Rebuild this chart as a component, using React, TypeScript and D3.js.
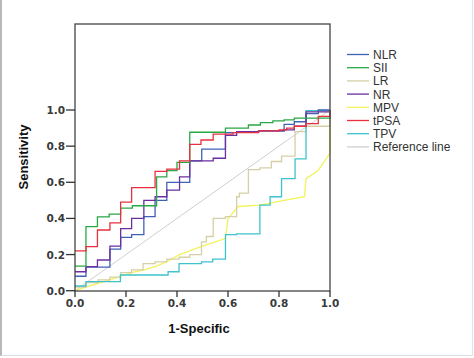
import React from "react";
import * as d3 from "d3";

const TICKS = [0, 0.2, 0.4, 0.6, 0.8, 1.0];

// ROC points: [1 - specificity, sensitivity]
const NLR: [number, number][] = [
  [0, 0.08], [0.043, 0.13], [0.137, 0.23], [0.179, 0.295], [0.222, 0.31], [0.27, 0.41],
  [0.314, 0.5], [0.36, 0.6], [0.45, 0.718], [0.497, 0.784], [0.59, 0.875], [0.634, 0.88],
  [0.72, 0.885], [0.82, 0.92], [0.86, 0.935], [0.906, 0.98], [0.954, 1.0], [1.0, 1.0],
];
const SII: [number, number][] = [
  [0, 0.136], [0.043, 0.355], [0.088, 0.409], [0.134, 0.424], [0.179, 0.457], [0.225, 0.47],
  [0.32, 0.63], [0.36, 0.665], [0.4, 0.71], [0.45, 0.877], [0.59, 0.9], [0.68, 0.917],
  [0.727, 0.93], [0.776, 0.94], [0.82, 0.945], [0.86, 0.955], [1.0, 1.0],
];
const LR: [number, number][] = [
  [0, 0.02], [0.043, 0.045], [0.09, 0.06], [0.137, 0.075], [0.179, 0.1], [0.222, 0.115],
  [0.267, 0.15], [0.314, 0.16], [0.36, 0.175], [0.408, 0.185], [0.45, 0.2], [0.496, 0.27],
  [0.515, 0.3], [0.542, 0.4], [0.59, 0.41], [0.634, 0.52], [0.645, 0.54], [0.68, 0.67],
  [0.725, 0.68], [0.77, 0.715], [0.81, 0.745], [0.863, 0.88], [0.906, 0.91], [1.0, 1.0],
];
const NR: [number, number][] = [
  [0, 0.105], [0.043, 0.133], [0.088, 0.17], [0.137, 0.247], [0.179, 0.343], [0.222, 0.4],
  [0.27, 0.5], [0.314, 0.52], [0.36, 0.557], [0.41, 0.63], [0.45, 0.718], [0.542, 0.733],
  [0.59, 0.86], [0.634, 0.88], [0.72, 0.885], [0.82, 0.89], [0.86, 0.91], [0.906, 0.99],
  [1.0, 1.0],
];
const MPV: [number, number][] = [
  [0, 0.0], [0.043, 0.02], [0.09, 0.04], [0.137, 0.06], [0.18, 0.08], [0.222, 0.1],
  [0.27, 0.115], [0.314, 0.133], [0.36, 0.16], [0.41, 0.2], [0.45, 0.22], [0.496, 0.245],
  [0.54, 0.265], [0.59, 0.29], [0.6, 0.4], [0.64, 0.466], [0.725, 0.474], [0.82, 0.5],
  [0.9, 0.52], [0.906, 0.62], [0.953, 0.665], [1.0, 0.76], [1.0, 1.0],
];
const TPSA: [number, number][] = [
  [0, 0.22], [0.043, 0.244], [0.088, 0.336], [0.137, 0.375], [0.179, 0.49], [0.222, 0.57],
  [0.314, 0.66], [0.36, 0.673], [0.41, 0.718], [0.45, 0.81], [0.494, 0.834], [0.542, 0.867],
  [0.62, 0.875], [0.72, 0.885], [0.8, 0.89], [0.83, 0.9], [0.86, 0.91], [0.906, 0.925],
  [0.954, 0.965], [1.0, 1.0],
];
const TPV: [number, number][] = [
  [0, 0.026], [0.043, 0.05], [0.178, 0.087], [0.314, 0.087], [0.365, 0.105], [0.408, 0.15],
  [0.496, 0.16], [0.54, 0.175], [0.59, 0.31], [0.634, 0.315], [0.725, 0.474], [0.765, 0.52],
  [0.81, 0.62], [0.863, 0.73], [0.906, 0.996], [1.0, 1.0],
];
const REF: [number, number][] = [[0, 0], [1, 1]];

const SERIES_NAMES = ["NLR", "SII", "LR", "NR", "MPV", "tPSA", "TPV", "Reference line"];
const SERIES_DATA = [NLR, SII, LR, NR, MPV, TPSA, TPV, REF];
const SERIES_COLORS = ["#4062B5", "#2AA845", "#D6CFA6", "#6B2FA0", "#F2F25A", "#E8313F", "#3EC3CB", "#CFCFCF"];
const SERIES_STEP = [true, true, true, true, false, true, true, false];
const DRAW_ORDER = [7, 4, 2, 6, 0, 3, 1, 5];

export default function App() {
  const W = 474, H = 358;
  const box = { left: 75, right: 330, top: 24, bottom: 291 };
  const x = d3.scaleLinear().domain([0, 1]).range([box.left, box.right]);
  const y = d3.scaleLinear().domain([0, 1]).range([290.7, 110]);
  const fmt = d3.format(".1f");

  const lineFor = (i: number) =>
    d3
      .line<[number, number]>()
      .x((d) => x(d[0]))
      .y((d) => y(d[1]))
      .curve(SERIES_STEP[i] ? d3.curveStepAfter : d3.curveLinear)(SERIES_DATA[i]) || "";

  return (
    <svg
      width={W}
      height={H}
      style={{ position: "absolute", left: 0, top: 0, display: "block", background: "#fff" }}
    >
      <rect x={0} y={0} width={W} height={H} fill="#fff" />
      <line x1={1} y1={0} x2={1} y2={356} stroke="#b8b8b8" strokeWidth={2} />
      <line x1={1} y1={355.5} x2={472} y2={355.5} stroke="#dcdcdc" strokeWidth={1} />
      <line x1={472.5} y1={0} x2={472.5} y2={356} stroke="#e4e4e4" strokeWidth={1} />

      <g>
        {DRAW_ORDER.map((i) => (
          <path
            key={SERIES_NAMES[i]}
            d={lineFor(i)}
            fill="none"
            stroke={SERIES_COLORS[i]}
            strokeWidth={i === 7 ? 1 : 1.3}
          />
        ))}
      </g>

      <rect
        x={box.left}
        y={box.top}
        width={box.right - box.left}
        height={box.bottom - box.top}
        fill="none"
        stroke="#444"
        strokeWidth={1.3}
      />

      <g fontFamily="DejaVu Sans, sans-serif" fontSize={10.5} fontWeight="bold" fill="#3a3a3a">
        {TICKS.map((t) => (
          <g key={"y" + t}>
            <line x1={66} x2={box.left} y1={y(t)} y2={y(t)} stroke="#333" strokeWidth={1.3} />
            <text x={65} y={y(t) + 4} textAnchor="end">
              {fmt(t)}
            </text>
          </g>
        ))}
        {TICKS.map((t) => (
          <g key={"x" + t}>
            <line x1={x(t)} x2={x(t)} y1={box.bottom} y2={box.bottom + 6} stroke="#333" strokeWidth={1.3} />
            <text x={x(t)} y={306.5} textAnchor="middle">
              {fmt(t)}
            </text>
          </g>
        ))}
      </g>

      <text
        x={199}
        y={333}
        textAnchor="middle"
        fontFamily="Liberation Sans, Arial, sans-serif"
        fontWeight="bold"
        fontSize={13}
        fill="#111"
      >
        1-Specific
      </text>
      <text
        transform={`translate(28,157) rotate(-90)`}
        textAnchor="middle"
        fontFamily="Liberation Sans, Arial, sans-serif"
        fontWeight="bold"
        fontSize={13}
        fill="#111"
      >
        Sensitivity
      </text>

      <g fontFamily="Liberation Sans, Arial, sans-serif" fontSize={12} fill="#333">
        {SERIES_NAMES.map((name, i) => {
          const ry = 54.5 + i * 13.2;
          return (
            <g key={name}>
              <line x1={347} x2={369} y1={ry} y2={ry} stroke={SERIES_COLORS[i]} strokeWidth={1.3} />
              <text x={373} y={ry + 4.5}>
                {name}
              </text>
            </g>
          );
        })}
      </g>
    </svg>
  );
}
